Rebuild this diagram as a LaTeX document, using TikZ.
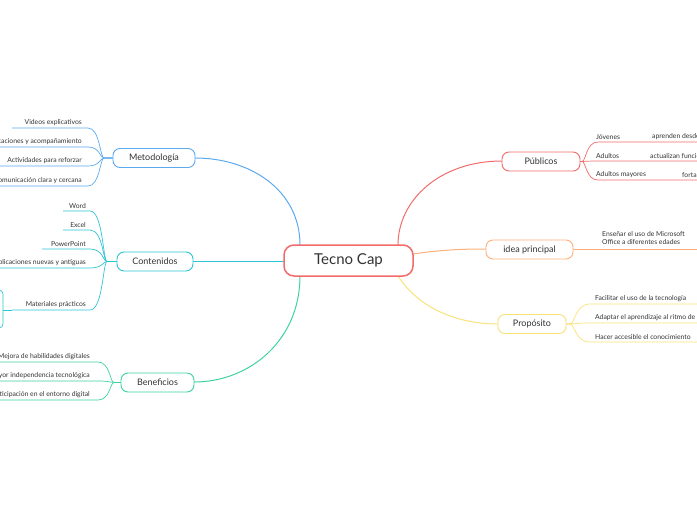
\documentclass[tikz,border=0pt]{standalone}
\usepackage{fontspec}
\setmainfont{Lato}
\begin{document}
\begin{tikzpicture}[x=1pt,y=-1pt,
  box/.style={draw=#1,line width=0.9pt,rounded corners=7pt,minimum height=19pt,inner xsep=2pt,text=black!80,font=\fontsize{9}{10}\selectfont,fill=white},
  leaf/.style={font=\fontsize{6.8}{8}\selectfont,text=black!80,inner sep=1pt},
  br/.style={line width=0.7pt}]
\useasboundingbox (0,0) rectangle (697,520);
\clip (0,0) rectangle (697,520);
\definecolor{cr}{HTML}{F26B6B}\definecolor{co}{HTML}{FFB07A}\definecolor{cy}{HTML}{F8E27A}
\definecolor{cb}{HTML}{5BAAF0}\definecolor{cc}{HTML}{2EC4D4}\definecolor{cg}{HTML}{3ED39E}
% connectors
\draw[cb,line width=1pt] (300,245) .. controls (300,190) and (250,158) .. (195,158);
\draw[cc,line width=1pt] (284,261) -- (193,261);
\draw[cg,line width=1pt] (300,276) .. controls (300,340) and (250,382) .. (194,382);
\draw[cr,line width=1pt] (398,245) .. controls (398,200) and (440,161) .. (502,161);
\draw[co,line width=1pt] (413,254) .. controls (440,250) and (460,249) .. (486,249);
\draw[cy,line width=1pt] (398,276) .. controls (420,310) and (460,324) .. (498,324);
\node[box=cr,line width=1.5pt,minimum width=129pt,minimum height=31pt,rounded corners=10pt,font=\fontsize{15}{16}\selectfont] (c) at (348.5,260.5) {Tecno Cap};
% Metodologia
\node[box=cb,minimum width=82pt] (m) at (154,158) {Metodología};
\foreach \y/\t/\xs in {128/Videos explicativos/12,147/Explicaciones y acompañamiento/0,166/Actividades para reforzar/0,186/Comunicación clara y cercana/0}{
  \draw[cb,br] (m.west) -- (104,158) .. controls (100,158) and (100,\y) .. (88,\y) -- (\xs,\y);
  \node[leaf,anchor=south east] at (83,\y-1) {\t};}
% Contenidos
\node[box=cc,minimum width=76pt] (ct) at (155,261.5) {Contenidos};
\foreach \y/\t/\xs in {211/Word/63,230/Excel/63,249/PowerPoint/42,268/Aplicaciones nuevas y antiguas/0,310/Materiales prácticos/12}{
  \draw[cc,br] (ct.west) -- (107,261.5) .. controls (103,261.5) and (103,\y) .. (90,\y) -- (\xs,\y);
  \node[leaf,anchor=south east] at (87,\y-1) {\t};}
\draw[cc,br] (12,310) -- (3,310);
\draw[cc,br,rounded corners=4pt] (-4,290) -- (3,290) -- (3,328) -- (-4,328);
% Beneficios
\node[box=cg,minimum width=73pt] (b) at (157.5,382.5) {Beneficios};
\foreach \y/\t in {362/Mejora de habilidades digitales,381/Mayor independencia tecnológica,400/Participación en el entorno digital}{
  \draw[cg,br] (b.west) -- (114,382.5) .. controls (110,382.5) and (110,\y) .. (98,\y) -- (0,\y);
  \node[leaf,anchor=south east] at (91,\y-1) {\t};}
% Publicos
\node[box=cr,minimum width=78pt] (p) at (541,161.5) {Públicos};
\foreach \y/\a/\b/\bx in {142/Jóvenes/aprenden desde cero/651,161/Adultos/actualizan funciones/649,180/Adultos mayores/fortalecen su confianza/681}{
  \draw[cr,br] (p.east) -- (582,161.5) .. controls (586,161.5) and (586,\y) .. (598,\y) -- (697,\y);
  \node[leaf,anchor=south west] at (595,\y-1) {\a};
  \node[leaf,anchor=south west] at (\bx,\y-1) {\b};}
% idea principal
\node[box=co,minimum width=87pt] (i) at (529.5,249.5) {idea principal};
\draw[co,br] (i.east) -- (697,249.5);
\node[leaf,anchor=south west,align=left] at (601,246) {Enseñar el uso de Microsoft\\Office a diferentes edades};
% Proposito
\node[box=cy,minimum width=68pt] (pr) at (532,324) {Propósito};
\foreach \y/\t in {304/Facilitar el uso de la tecnología,323/Adaptar el aprendizaje al ritmo de cada uno,342/Hacer accesible el conocimiento}{
  \draw[cy,br] (pr.east) -- (570,324) .. controls (575,324) and (575,\y) .. (590,\y) -- (697,\y);
  \node[leaf,anchor=south west] at (594,\y-1) {\t};}
\end{tikzpicture}
\end{document}
